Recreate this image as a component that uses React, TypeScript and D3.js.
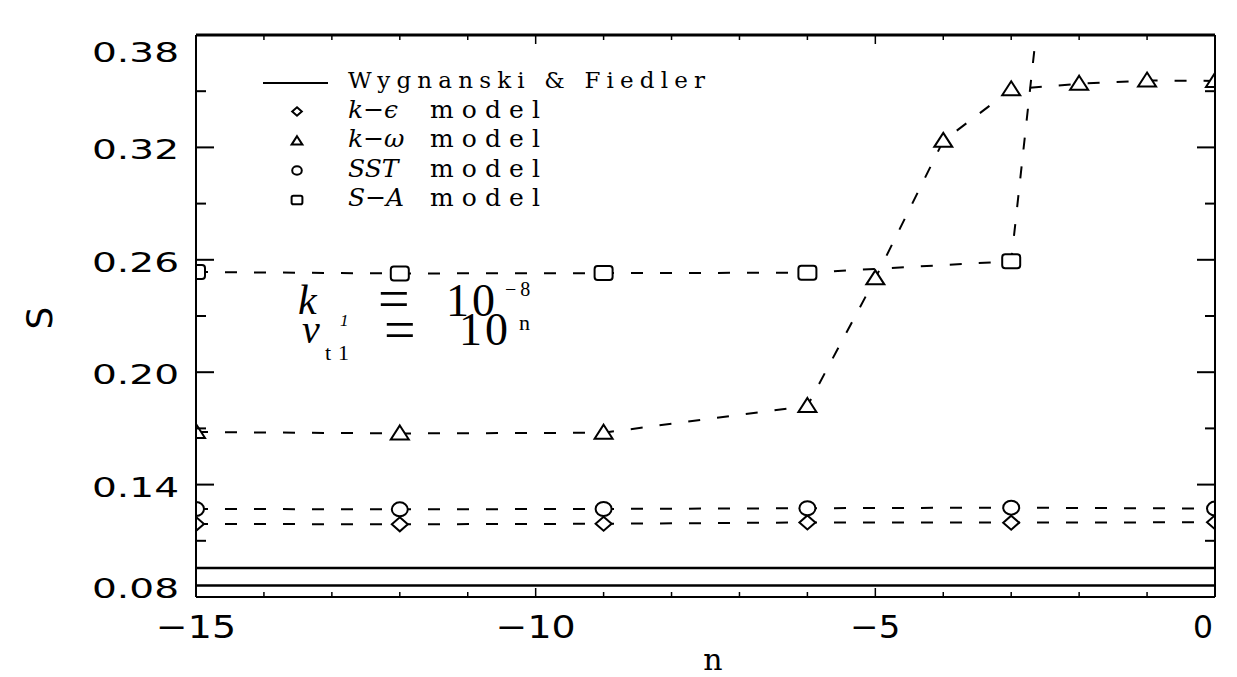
import React from "react";
import * as d3 from "d3";

// n = log10(nu_t1)
const nCoarse = [-15, -12, -9, -6, -3, 0];
const kEpsilonS = [0.119, 0.1188, 0.1191, 0.1198, 0.1197, 0.1199];
const sstS = [0.127, 0.1268, 0.127, 0.1274, 0.1277, 0.1272];

const kOmegaN = [-15, -12, -9, -6, -5, -4, -3, -2, -1, 0];
const kOmegaS = [0.1681, 0.1673, 0.1677, 0.182, 0.2501, 0.3235, 0.351, 0.354, 0.3557, 0.3555];

const saN = [-15, -12, -9, -6, -3, -2];
const saS = [0.2535, 0.2527, 0.2529, 0.2531, 0.2592, 0.59];

// Wygnanski & Fiedler experimental band
const wfN = [-15, 0];
const wfUpper = [0.0955, 0.0955];
const wfLower = [0.0861, 0.0861];

const xTickLabels = [-15, -10, -5, 0];
const yTickLabels = [0.08, 0.14, 0.2, 0.26, 0.32, 0.38];

const W = 1237;
const H = 677;
const margin = { top: 35, right: 22, bottom: 80, left: 196 };

type MarkerType = "diamond" | "triangle" | "circle" | "square";

function Marker({ type, cx, cy, k = 1 }: { type: MarkerType; cx: number; cy: number; k?: number }) {
  const common = { fill: "#fff", stroke: "#000", strokeWidth: 2 };
  if (type === "diamond")
    return <path {...common} d={`M${cx},${cy - 7 * k}L${cx + 8 * k},${cy}L${cx},${cy + 7 * k}L${cx - 8 * k},${cy}Z`} />;
  if (type === "triangle")
    return <path {...common} d={`M${cx},${cy - 8 * k}L${cx + 9 * k},${cy + 6 * k}L${cx - 9 * k},${cy + 6 * k}Z`} />;
  if (type === "circle") return <ellipse {...common} cx={cx} cy={cy} rx={8 * k} ry={7 * k} />;
  return <rect {...common} x={cx - 9 * k} y={cy - 7 * k} width={18 * k} height={14 * k} rx={3 * k} />;
}

const fmt = d3.format(".2f");

export default function App() {
  const x = d3.scaleLinear().domain([-15, 0]).range([margin.left, W - margin.right]);
  const y = d3.scaleLinear().domain([0.08, 0.38]).range([H - margin.bottom, margin.top]);
  const line = d3
    .line<[number, number]>()
    .x((d) => x(d[0]))
    .y((d) => y(d[1]));

  const x0 = x.range()[0];
  const x1 = x.range()[1];
  const yb = y.range()[0];
  const yt = y.range()[1];

  const series: { n: number[]; s: number[]; marker: MarkerType }[] = [
    { n: nCoarse, s: kEpsilonS, marker: "diamond" },
    { n: nCoarse, s: sstS, marker: "circle" },
    { n: kOmegaN, s: kOmegaS, marker: "triangle" },
    { n: saN, s: saS, marker: "square" },
  ];

  const xMinor = d3.range(-15, 1);
  const yMinor = d3.range(11).map((i) => 0.08 + i * 0.03);

  const serif = "'DejaVu Serif', serif";
  const sans = "'DejaVu Sans', sans-serif";
  const times = "'Liberation Serif', serif";

  const legendRows: { sym?: MarkerType; pre: React.ReactNode }[] = [
    { pre: null },
    { sym: "diamond", pre: <><tspan fontStyle="italic">k</tspan>−<tspan fontStyle="italic">ϵ</tspan></> },
    { sym: "triangle", pre: <><tspan fontStyle="italic">k</tspan>−<tspan fontStyle="italic">ω</tspan></> },
    { sym: "circle", pre: <tspan fontStyle="italic">SST</tspan> },
    { sym: "square", pre: <><tspan fontStyle="italic">S</tspan>−<tspan fontStyle="italic">A</tspan></> },
  ];

  return (
    <svg
      width={W}
      height={H}
      style={{ position: "absolute", left: 0, top: 0, background: "#fff" }}
    >
      <defs>
        <clipPath id="plot">
          <rect x={x0} y={yt} width={x1 - x0} height={yb - yt} />
        </clipPath>
      </defs>

      {/* data */}
      <g clipPath="url(#plot)">
        <path d={line(wfN.map((n, i) => [n, wfUpper[i]]))!} fill="none" stroke="#000" strokeWidth={2.5} />
        <path d={line(wfN.map((n, i) => [n, wfLower[i]]))!} fill="none" stroke="#000" strokeWidth={2.5} />
        {series.map((sr, si) => (
          <path
            key={si}
            d={line(sr.n.map((n, i) => [n, sr.s[i]]))!}
            fill="none"
            stroke="#000"
            strokeWidth={2}
            strokeDasharray="12 17"
          />
        ))}
        {series.map((sr, si) =>
          sr.n.map((n, i) => <Marker key={`${si}-${i}`} type={sr.marker} cx={x(n)} cy={y(sr.s[i])} />)
        )}
      </g>

      {/* frame */}
      <g stroke="#000" fill="none">
        <line x1={x0} x2={x1} y1={yt} y2={yt} strokeWidth={3} />
        <line x1={x0} x2={x1} y1={yb} y2={yb} strokeWidth={2} />
        <line x1={x0} x2={x0} y1={yt} y2={yb} strokeWidth={2} />
        <line x1={x1} x2={x1} y1={yt} y2={yb} strokeWidth={2} />
        {xMinor.map((n) => {
          const len = n % 5 === 0 ? 9 : 5;
          return (
            <g key={n}>
              <line x1={x(n)} x2={x(n)} y1={yb} y2={yb - len} strokeWidth={1.5} />
              <line x1={x(n)} x2={x(n)} y1={yt} y2={yt + len} strokeWidth={1.5} />
            </g>
          );
        })}
        {yMinor.map((v, i) => {
          const len = i % 2 === 0 ? 18 : 10;
          return (
            <g key={i}>
              <line x1={x0} x2={x0 + len} y1={y(v)} y2={y(v)} strokeWidth={2} />
              <line x1={x1} x2={x1 - len} y1={y(v)} y2={y(v)} strokeWidth={2} />
            </g>
          );
        })}
      </g>

      {/* tick labels */}
      <g fontFamily={sans} fontSize={26} fill="#000">
        {yTickLabels.map((v) => (
          <text
            key={v}
            x={179}
            y={Math.min(Math.max(y(v) + 12, yt + 27), yb + 1)}
            textAnchor="end"
            textLength={87}
            lengthAdjust="spacingAndGlyphs"
          >
            {fmt(v)}
          </text>
        ))}
      </g>
      <g fontFamily={sans} fontSize={32} fill="#000">
        {xTickLabels.map((n) => {
          const label = n < 0 ? `−${Math.abs(n)}` : `${n}`;
          const last = n === 0;
          return (
            <text
              key={n}
              x={last ? x(n) - 2 : x(n)}
              y={638}
              textAnchor={last ? "end" : "middle"}
              textLength={label.length === 3 ? 80 : label.length === 2 ? 50 : 20}
              lengthAdjust="spacingAndGlyphs"
            >
              {label}
            </text>
          );
        })}
      </g>

      {/* axis titles */}
      <text x={713} y={670} textAnchor="middle" fontFamily={serif} fontSize={30}>
        n
      </text>
      <text transform="translate(52,318) rotate(-90)" textAnchor="middle" fontFamily={sans} fontSize={36}>
        S
      </text>

      {/* legend */}
      <g fontFamily={serif} fill="#000">
        {legendRows.map((r, i) => {
          const by = 88 + i * 29.5;
          if (i === 0)
            return (
              <g key={i}>
                <line x1={263} x2={328} y1={by - 5} y2={by - 5} stroke="#000" strokeWidth={2} />
                <text x={348} y={by} fontSize={23} textLength={357} lengthAdjust="spacing">
                  Wygnanski &amp; Fiedler
                </text>
              </g>
            );
          return (
            <g key={i}>
              <Marker type={r.sym!} cx={297} cy={by - 6} k={0.6} />
              <text x={348} y={by} fontSize={25}>
                {r.pre}
              </text>
              <text x={430} y={by} fontSize={25} textLength={110} lengthAdjust="spacing">
                model
              </text>
            </g>
          );
        })}
      </g>

      {/* annotation: k1 = 10^-8, nu_t1 = 10^n */}
      <text fontFamily={times} fill="#000">
        <tspan x={298} y={314} fontSize={42} fontStyle="italic">k</tspan>
        <tspan x={340} y={326} fontSize={17} fontStyle="italic">1</tspan>
        <tspan x={378} y={318} fontSize={56}>=</tspan>
        <tspan x={446} y={316} fontSize={46} letterSpacing={3}>10</tspan>
        <tspan x={505} y={296} fontSize={20} letterSpacing={4}>−8</tspan>
        <tspan x={302} y={343} fontSize={40} fontStyle="italic">ν</tspan>
        <tspan x={325} y={360} fontSize={22} letterSpacing={7}>t1</tspan>
        <tspan x={384} y={349} fontSize={56}>=</tspan>
        <tspan x={459} y={345} fontSize={46} letterSpacing={3}>10</tspan>
        <tspan x={519} y={330} fontSize={22}>n</tspan>
      </text>
    </svg>
  );
}
